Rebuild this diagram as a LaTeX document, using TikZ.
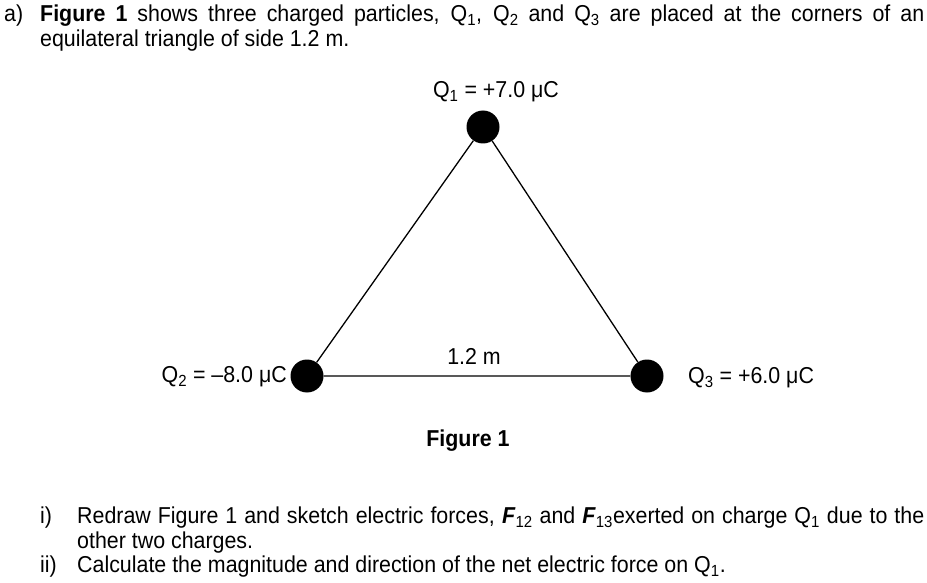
\documentclass[tikz,border=0pt]{standalone}
\usepackage{fontspec}
\setmainfont[FakeStretch=0.93]{Liberation Sans}
\begin{document}
\begin{tikzpicture}[x=1pt,y=-1pt,
  chg/.style={circle,fill=black,minimum size=33pt,inner sep=0pt},
  txt/.style={inner sep=0pt,font=\fontsize{23}{24.5}\selectfont},
  para/.style={txt,anchor=north west,align=justify}]
\useasboundingbox (0,0) rectangle (927,583);
\node[chg] (q1) at (483,127) {};
\node[chg] (q2) at (307,376) {};
\node[chg] (q3) at (647,376) {};
\draw[line width=1.3pt] (q1) -- (q2) -- (q3) -- (q1);
\node[txt] (l1) at (496,92) {Q\textsubscript{1} = +7.0 μC};
\node[txt,anchor=east] (l2) at (287,377) {Q\textsubscript{2} = –8.0 μC};
\node[txt,anchor=west] (l3) at (688,378) {Q\textsubscript{3} = +6.0 μC};
\node[txt] (len) at (474,356) {1.2 m};
\node[txt,font=\fontsize{23}{24.5}\selectfont\bfseries] (fig) at (468,441) {Figure 1};
\node[txt,anchor=north west] (a) at (4,5) {a)};
\node[para,text width=884pt] (pa) at (40,5) {\textbf{Figure 1} shows three charged particles, Q\textsubscript{1}, Q\textsubscript{2} and Q\textsubscript{3} are placed at the corners of an\linebreak equilateral triangle of side 1.2 m.};
\node[txt,anchor=north west] (i) at (40,507) {i)};
\node[para,text width=847pt] (pi) at (77,507) {Redraw Figure 1 and sketch electric forces, \textbf{\textit{F}}\textsubscript{12} and \textbf{\textit{F}}\textsubscript{13}exerted on charge Q\textsubscript{1} due to the\linebreak other two charges.};
\node[txt,anchor=north west] (ii) at (40,556) {ii)};
\node[txt,anchor=north west] (pii) at (77,556) {Calculate the magnitude and direction of the net electric force on Q\textsubscript{1}.};
\end{tikzpicture}
\end{document}
